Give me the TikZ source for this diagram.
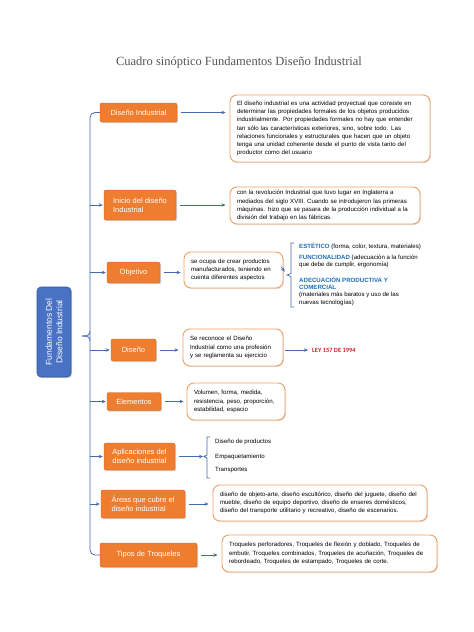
\documentclass[tikz,border=0pt]{standalone}
\usepackage{fontspec}
\setmainfont{Liberation Sans}
\newfontfamily\titlefont{Liberation Serif}
\newfontfamily\leyfont{Carlito}
\usetikzlibrary{shadows,arrows.meta}
\definecolor{oran}{RGB}{239,125,48}
\definecolor{oranD}{RGB}{205,98,30}
\definecolor{oborder}{RGB}{238,160,100}
\definecolor{bluel}{RGB}{74,114,196}
\definecolor{blueD}{RGB}{47,85,151}
\definecolor{arrc}{RGB}{70,105,175}
\definecolor{txtblue}{RGB}{30,110,190}
\definecolor{leyred}{RGB}{220,30,40}
\definecolor{titlegray}{RGB}{85,85,85}
\tikzset{
 obox/.style={rectangle, rounded corners=2, fill=oran, draw=oranD, line width=0.4, text=white,
   font=\fontsize{7.5}{9}\selectfont, inner sep=2,
   drop shadow={opacity=0.35, shadow xshift=1.2pt, shadow yshift=-1.2pt}},
 dbox/.style={rectangle, rounded corners=7, fill=white, draw=oborder, line width=0.9,
   font=\fontsize{6.1}{8.2}\selectfont, align=left, inner sep=0,
   drop shadow={opacity=0.25, shadow xshift=1pt, shadow yshift=-1pt}},
 arr/.style={draw=arrc, line width=0.7, -{Stealth[length=4pt,width=3.5pt]}},
 spine/.style={draw=arrc, line width=0.8},
 item/.style={font=\fontsize{6.1}{7.4}\selectfont, align=left, inner sep=0},
 hl/.style={text=txtblue, font=\fontsize{6.1}{7.4}\selectfont\bfseries},
}
\begin{document}
\begin{tikzpicture}[x=1pt,y=-1pt]
\useasboundingbox (0,0) rectangle (474,632);
\fill[white] (0,0) rectangle (474,632);

\node[font=\titlefont\fontsize{12.5}{14}\selectfont, text=titlegray] (title) at (239,62) {Cuadro sinóptico Fundamentos Diseño Industrial};

\coordinate (sp) at (90,0);

% main node
\node[rectangle, rounded corners=4, fill=bluel, draw=blueD, line width=0.6, text=white, rotate=90,
  minimum width=90, minimum height=34, align=center, font=\fontsize{8.5}{10.5}\selectfont,
  drop shadow={opacity=0.3, shadow xshift=1.2pt, shadow yshift=-1.2pt}] (main) at (54,332)
  {Fundamentos Del\\Diseño Industrial};

% orange boxes
\node[obox, minimum width=77, minimum height=19] (di) at (138.5,112.5) {Diseño Industrial};
\node[obox, minimum width=72, minimum height=30, align=left] (ini) at (140,205) {Inicio del diseño\\Industrial};
\node[obox, minimum width=53, minimum height=21] (obj) at (133.5,272.5) {Objetivo};
\node[obox, minimum width=45, minimum height=22] (dis) at (133.5,350) {Diseño};
\node[obox, minimum width=54, minimum height=18] (ele) at (134,401.5) {Elementos};
\node[obox, minimum width=71, minimum height=27, align=center] (app) at (139.5,456.5) {Aplicaciones del\\diseño industrial};
\node[obox, minimum width=84, minimum height=28, align=left] (are) at (143,504) {Áreas que cubre el\\diseño industrial};
\node[obox, minimum width=97, minimum height=24] (tt) at (148.5,555) {Tipos de Troqueles};

% description boxes
\node[dbox, minimum width=200, minimum height=67, text width=186] (d1) at (330,128.5)
 {El diseño industrial es una actividad proyectual que consiste en\\
  determinar las propiedades formales de los objetos producidos\\
  industrialmente. Por propiedades formales no hay que entender\\
  tan sólo las características exteriores, sino, sobre todo. Las\\
  relaciones funcionales y estructurales que hacen que un objeto\\
  tenga una unidad coherente desde el punto de vista tanto del\\
  productor como del usuario};
\node[dbox, minimum width=190, minimum height=37, text width=176] (d2) at (325,205.5)
 {con la revolución Industrial que tuvo lugar en Inglaterra a\\
  mediados del siglo XVIII. Cuando se introdujeron las primeras\\
  máquinas. hizo que se pasara de la producción individual a la\\
  división del trabajo en las fábricas.};
\node[dbox, minimum width=99, minimum height=36, text width=85] (d3) at (233.5,270)
 {se ocupa de crear productos\\manufacturados, teniendo en\\cuenta diferentes aspectos};
\node[dbox, minimum width=100, minimum height=37, text width=86] (d4) at (233,347.5)
 {Se reconoce el Diseño\\Industrial como una profesión\\y se reglamenta su ejercicio};
\node[dbox, minimum width=98, minimum height=37, text width=84] (d5) at (236,401.5)
 {Volumen, forma, medida,\\resistencia, peso, proporción,\\estabilidad, espacio};
\node[dbox, minimum width=214, minimum height=36, text width=200] (d7) at (320,503)
 {diseño de objeto-arte, diseño escultórico, diseño del juguete, diseño del\\
  mueble, diseño de equipo deportivo, diseño de enseres domésticos,\\
  diseño del transporte utilitario y recreativo, diseño de escenarios.};
\node[dbox, minimum width=215, minimum height=37, text width=201] (d8) at (329.5,553.5)
 {Troqueles perforadores, Troqueles de flexión y doblado, Troqueles de\\
  embutir, Troqueles combinados, Troqueles de acuñación, Troqueles de\\
  rebordeado, Troqueles de estampado, Troqueles de corte.};

\node[anchor=west, inner sep=0, text=leyred, font=\leyfont\fontsize{6.4}{8}\selectfont\bfseries] (ley) at (312,350) {LEY 157 DE 1994};

% Objetivo aspects
\coordinate (brO) at (287,275);
\draw[spine, line width=0.7] (294,243) -- (291,243) -- (291,273.5) -- (brO) -- (291,276.5) -- (291,307) -- (294,307);
\node[item, anchor=north west] (a1) at (299,242.5) {\textcolor{txtblue}{\bfseries ESTÉTICO} (forma, color, textura, materiales)};
\node[item, anchor=north west] (a2) at (299,254.5) {\textcolor{txtblue}{\bfseries FUNCIONALIDAD} (adecuación a la función\\que debe de cumplir, ergonomía)};
\node[item, anchor=north west] (a3) at (299,276.5) {\textcolor{txtblue}{\bfseries ADECUACIÓN PRODUCTIVA Y}\\\textcolor{txtblue}{\bfseries COMERCIAL}\\(materiales más baratos y uso de las\\nuevas tecnologías)};

% Aplicaciones items
\coordinate (brA) at (204,456.5);
\draw[spine, line width=0.7] (210,437) -- (207,437) -- (207,455) -- (brA) -- (207,458) -- (207,478) -- (210,478);
\node[item, anchor=west] (p1) at (215,442) {Diseño de productos};
\node[item, anchor=west] (p2) at (215,457) {Empaquetamiento};
\node[item, anchor=west] (p3) at (215,470) {Transportes};

% spine
\draw[spine, rounded corners=5] (di.west) -- (di.west -| sp) -- (tt.west -| sp) -- (tt.west);
\coordinate (nt) at (82,336);
\draw[spine] (nt) .. controls (88,336) and (90,335) .. (90,331);
\draw[spine] (nt) .. controls (88,336) and (90,337) .. (90,341);

% arrows from spine
\foreach \b in {ini,obj,dis,ele,app,are}
  \draw[arr, shorten >=1] (\b.west -| sp) -- (\b.west);

% arrows to descriptions
\draw[arr, shorten <=4, shorten >=4] (di.east) -- (di.east -| d1.west);
\draw[arr, shorten <=4, shorten >=4] (ini.east) -- (ini.east -| d2.west);
\draw[arr, shorten <=4, shorten >=3] (obj.east) -- (obj.east -| d3.west);
\draw[arr, shorten <=4, shorten >=4] (d3.east) -- (brO);
\draw[arr, shorten <=4, shorten >=4] (dis.east) -- (dis.east -| d4.west);
\draw[arr, shorten <=2, shorten >=4] (dis.east -| d4.east) -- (ley.west);
\draw[arr, shorten <=4, shorten >=3] (ele.east) -- (ele.east -| d5.west);
\draw[arr, shorten <=4, shorten >=1] (app.east) -- (brA);
\draw[arr, shorten <=4, shorten >=4] (are.east) -- (are.east -| d7.west);
\draw[arr, shorten <=4, shorten >=4] (tt.east) -- (tt.east -| d8.west);
\end{tikzpicture}
\end{document}
